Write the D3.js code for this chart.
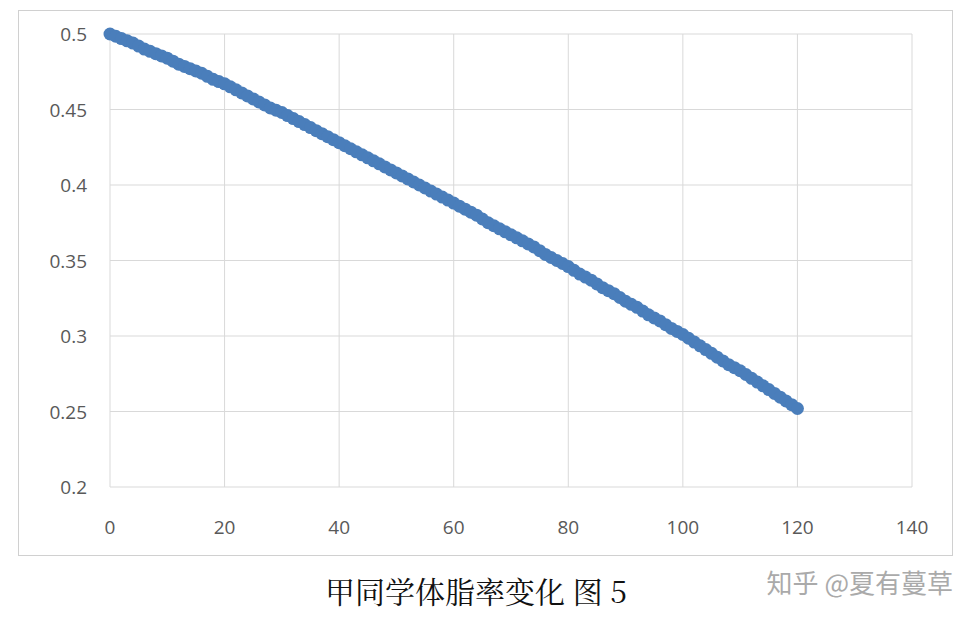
<!DOCTYPE html>
<html><head><meta charset="utf-8">
<script src="https://cdn.jsdelivr.net/npm/d3@7"></script>
<style>body{margin:0;background:#fff}text{font-family:"Open Sans","Noto Sans",sans-serif}</style>
</head><body><svg id="c" width="977" height="623"></svg>
<script>
// day index and body fat ratio
const xs = d3.range(0, 121, 1);
const fat = [
  .500,.4985,.497,.4955,.494,.492,.490,.4885,.487,.4855,.484,
  .482,.480,.4785,.477,.4755,.474,.472,.470,.4685,.467,
  .465,.463,.461,.459,.457,.455,.453,.451,.4495,.448,
  .446,.444,.442,.440,.438,.436,.434,.432,.430,.428,
  .426,.424,.422,.420,.418,.416,.414,.412,.410,.408,
  .406,.404,.402,.400,.398,.396,.394,.392,.390,.388,
  .386,.384,.382,.380,.3775,.375,.373,.371,.369,.367,
  .365,.363,.361,.359,.3565,.354,.352,.350,.348,.346,
  .3435,.341,.339,.337,.3345,.332,.330,.328,.3255,.323,
  .321,.319,.3165,.314,.312,.310,.3075,.305,.303,.301,
  .2985,.296,.2935,.291,.2885,.286,.2835,.281,.279,.277,
  .2745,.272,.2695,.267,.2645,.262,.2595,.257,.2545,.252];
const xTicks = [0,20,40,60,80,100,120,140];
const yTicks = [0.2,0.25,0.3,0.35,0.4,0.45,0.5];

const svg = d3.select("#c");
const x = d3.scaleLinear().domain([0,140]).range([110,912]);
const y = d3.scaleLinear().domain([0.2,0.5]).range([487,34]);

svg.append("rect").attr("x",18.5).attr("y",10.5).attr("width",934).attr("height",545)
  .attr("fill","none").attr("stroke","#d0d0d0");

svg.append("g").selectAll("line").data(yTicks).join("line")
  .attr("x1",110).attr("x2",912).attr("y1",d=>y(d)).attr("y2",d=>y(d)).attr("stroke","#d9d9d9");
svg.append("g").selectAll("line").data(xTicks).join("line")
  .attr("y1",34).attr("y2",487).attr("x1",d=>x(d)).attr("x2",d=>x(d)).attr("stroke","#d9d9d9");

svg.append("g").selectAll("text").data(yTicks).join("text")
  .attr("x",87).attr("y",d=>y(d)+7).attr("text-anchor","end").attr("font-size",19).attr("fill","#595959")
  .text(d=>d3.format("")(d));
svg.append("g").selectAll("text").data(xTicks).join("text")
  .attr("x",d=>x(d)).attr("y",534).attr("text-anchor","middle").attr("font-size",19).attr("fill","#595959")
  .text(d=>d);

svg.append("g").selectAll("circle").data(xs).join("circle")
  .attr("cx",d=>x(d)).attr("cy",(d,i)=>y(fat[i])).attr("r",6.5).attr("fill","#4a7ebb");

svg.append("text").attr("x",325).attr("y",603).attr("font-size",30)
  .style("font-family","'Noto Serif CJK SC','Noto Sans CJK SC',serif").attr("fill","#111").text("甲同学体脂率变化  图 5");
svg.append("text").attr("x",953).attr("y",593).attr("text-anchor","end").attr("font-size",26)
  .style("font-family","'Noto Sans CJK SC',sans-serif").attr("fill","#aaa").text("知乎 @夏有蔓草");
</script></body></html>
